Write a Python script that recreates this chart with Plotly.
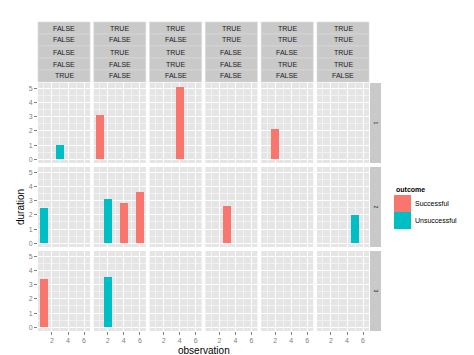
import plotly.graph_objects as go

# ---------------- data ----------------
col_strip_labels = [
    ["FALSE", "FALSE", "FALSE", "FALSE", "TRUE"],
    ["TRUE", "FALSE", "TRUE", "FALSE", "FALSE"],
    ["TRUE", "FALSE", "TRUE", "TRUE", "FALSE"],
    ["TRUE", "TRUE", "FALSE", "FALSE", "FALSE"],
    ["TRUE", "TRUE", "FALSE", "TRUE", "FALSE"],
    ["TRUE", "TRUE", "TRUE", "TRUE", "FALSE"],
]
row_strip_labels = ["1", "2", "3"]

bar_row = [1, 1, 1, 1, 2, 2, 2, 2, 2, 2, 3, 3]
bar_col = [1, 2, 3, 5, 1, 2, 2, 2, 4, 6, 1, 2]
observation = [3, 1, 4, 2, 1, 2, 4, 6, 3, 5, 1, 2]
duration = [1.0, 3.1, 5.1, 2.1, 2.5, 3.1, 2.8, 3.6, 2.6, 2.0, 3.4, 3.5]
outcome = ["Unsuccessful", "Successful", "Successful", "Successful",
           "Unsuccessful", "Unsuccessful", "Successful", "Successful",
           "Successful", "Unsuccessful", "Successful", "Unsuccessful"]

outcome_levels = ["Successful", "Unsuccessful"]
outcome_colors = {"Successful": "#F8766D", "Unsuccessful": "#00BFC4"}

x_ticks = [2, 4, 6]
y_ticks = [0, 1, 2, 3, 4, 5]

# ---------------- layout geometry (pixels) ----------------
W, H = 474, 355
NCOL, NROW = 6, 3
col_left0, col_step, col_w = 30, 55.8, 52
row_top0, row_step, row_h = 75, 84, 80
strip_top, strip_row_h = 14, 12
rstrip_l, rstrip_r = 362, 373

def px(x):
    return x / W

def py(y):
    return 1 - y / H

FONT = "Liberation Sans, Arial, sans-serif"
x_range = [0.255, 6.745]
y_range = [-0.255, 5.355]

fig = go.Figure()
layout = dict(
    width=W, height=H, autosize=False,
    margin=dict(l=0, r=0, t=0, b=0),
    paper_bgcolor="white", plot_bgcolor="#E5E5E5",
    showlegend=False, bargap=0,
    font=dict(family=FONT, size=7, color="#7F7F7F"),
)
shapes = []
annotations = []

def ax_id(i):
    return "" if i == 1 else str(i)

for r in range(NROW):
    for c in range(NCOL):
        i = r * NCOL + c + 1
        xl = col_left0 + c * col_step
        yt = row_top0 + r * row_step
        bottom = (r == NROW - 1)
        left = (c == 0)
        layout["xaxis" + ax_id(i)] = dict(
            domain=[px(xl), px(xl + col_w)], anchor="y" + ax_id(i),
            range=x_range, tickvals=x_ticks, showgrid=True,
            gridcolor="white", gridwidth=1, zeroline=False, showline=False,
            showticklabels=bottom, ticks="outside" if bottom else "",
            ticklen=3, tickcolor="#7F7F7F", tickwidth=1,
            tickfont=dict(family=FONT, size=7, color="#7F7F7F"),
            minor=dict(tickvals=[1, 3, 5], showgrid=True, gridcolor="#F2F2F2", gridwidth=0.6),
            fixedrange=True,
        )
        layout["yaxis" + ax_id(i)] = dict(
            domain=[py(yt + row_h), py(yt)], anchor="x" + ax_id(i),
            range=y_range, tickvals=y_ticks, showgrid=True,
            gridcolor="white", gridwidth=1, zeroline=False, showline=False,
            showticklabels=left, ticks="outside" if left else "",
            ticklen=3, tickcolor="#7F7F7F", tickwidth=1,
            tickfont=dict(family=FONT, size=7, color="#7F7F7F"),
            minor=dict(tickvals=[0.5, 1.5, 2.5, 3.5, 4.5], showgrid=True,
                       gridcolor="#F2F2F2", gridwidth=0.6),
            fixedrange=True,
        )
        # empty trace so every panel is drawn (background + grid)
        fig.add_trace(go.Scatter(x=[None], y=[None], mode="markers",
                                 xaxis="x" + ax_id(i), yaxis="y" + ax_id(i),
                                 showlegend=False, hoverinfo="skip"))

# bars
for k in range(len(duration)):
    i = (bar_row[k] - 1) * NCOL + bar_col[k]
    fig.add_trace(go.Bar(
        x=[observation[k]], y=[duration[k]], width=0.9,
        marker=dict(color=outcome_colors[outcome[k]], line=dict(width=0)),
        xaxis="x" + ax_id(i), yaxis="y" + ax_id(i),
        name=outcome[k], showlegend=False, hoverinfo="x+y+name",
    ))

# top strips
for c in range(NCOL):
    xl = col_left0 + c * col_step
    for j, lab in enumerate(col_strip_labels[c]):
        y0 = strip_top + j * strip_row_h
        shapes.append(dict(type="rect", xref="paper", yref="paper",
                           x0=px(xl), x1=px(xl + col_w),
                           y0=py(y0 + strip_row_h), y1=py(y0),
                           fillcolor="#C9C9C9", line=dict(color="#DADADA", width=0.6),
                           layer="below"))
        annotations.append(dict(text=lab, xref="paper", yref="paper",
                                x=px(xl + col_w / 2), y=py(y0 + strip_row_h / 2),
                                showarrow=False, xanchor="center", yanchor="middle",
                                font=dict(family=FONT, size=7, color="#1A1A1A")))

# right strips
for r in range(NROW):
    yt = row_top0 + r * row_step
    shapes.append(dict(type="rect", xref="paper", yref="paper",
                       x0=px(rstrip_l), x1=px(rstrip_r),
                       y0=py(yt + row_h), y1=py(yt),
                       fillcolor="#C9C9C9", line=dict(width=0), layer="below"))
    annotations.append(dict(text=row_strip_labels[r], xref="paper", yref="paper",
                            x=px((rstrip_l + rstrip_r) / 2), y=py(yt + row_h / 2),
                            showarrow=False, textangle=90,
                            xanchor="center", yanchor="middle",
                            font=dict(family=FONT, size=5, color="#1A1A1A")))

# axis titles
annotations.append(dict(text="observation", xref="paper", yref="paper",
                        x=px((col_left0 + col_left0 + 5 * col_step + col_w) / 2), y=py(342),
                        showarrow=False, xanchor="center", yanchor="middle",
                        font=dict(family=FONT, size=10, color="#000000")))
annotations.append(dict(text="duration", xref="paper", yref="paper",
                        x=px(12), y=py((row_top0 + row_top0 + 2 * row_step + row_h) / 2),
                        showarrow=False, textangle=-90, xanchor="center", yanchor="middle",
                        font=dict(family=FONT, size=10, color="#000000")))

# legend (drawn manually to match ggplot key boxes)
leg_x, leg_y = 386, 181
annotations.append(dict(text="<b>outcome</b>", xref="paper", yref="paper",
                        x=px(leg_x), y=py(leg_y), showarrow=False,
                        xanchor="left", yanchor="middle",
                        font=dict(family=FONT, size=7, color="#000000")))
for j, lev in enumerate(outcome_levels):
    y0 = 187 + j * 17
    shapes.append(dict(type="rect", xref="paper", yref="paper",
                       x0=px(leg_x), x1=px(leg_x + 17), y0=py(y0 + 17), y1=py(y0),
                       fillcolor=outcome_colors[lev], line=dict(width=0)))
    annotations.append(dict(text=lev, xref="paper", yref="paper",
                            x=px(leg_x + 19), y=py(y0 + 8.5), showarrow=False,
                            xanchor="left", yanchor="middle",
                            font=dict(family=FONT, size=7, color="#000000")))

layout["shapes"] = shapes
layout["annotations"] = annotations
fig.update_layout(**layout)
fig.write_html("out.html")
